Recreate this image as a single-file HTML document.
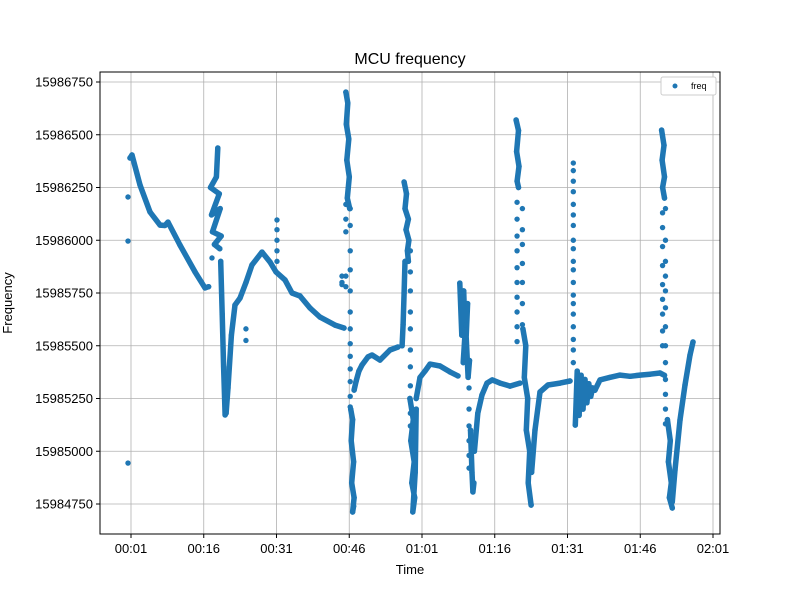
<!DOCTYPE html>
<html><head><meta charset="utf-8"><style>
body{margin:0;background:#fff}
svg{display:block;font-family:"Liberation Sans","DejaVu Sans",sans-serif}
</style></head><body>
<svg id="chart" width="800" height="600" viewBox="0 0 800 600">
<rect x="0" y="0" width="800" height="600" fill="#fff"/>
<g id="grid"></g>
<g id="marks"></g>
<rect x="100" y="72" width="620" height="462" fill="none" stroke="#000" stroke-width="1"/>
<g id="ticks"></g>
<text x="410" y="64" font-size="16" text-anchor="middle">MCU frequency</text>
<text x="410" y="574" font-size="13" text-anchor="middle">Time</text>
<text x="12" y="303" font-size="13" text-anchor="middle" transform="rotate(-90 12 303)">Frequency</text>
<g>
<rect x="661" y="77" width="55" height="18" rx="2" fill="#fff" stroke="#ccc"/>
<circle cx="675" cy="86" r="2.5" fill="#1f77b4"/>
<text x="691" y="89" font-size="9">freq</text>
</g>
</svg>
<script>
const xTicks=[1,16,31,46,61,76,91,106,121];
const yTicks=[15984750,15985000,15985250,15985500,15985750,15986000,15986250,15986500,15986750];
// continuous dense segments: [times(min)], [freq]
const segTimes=[
[0.79,1.2,2.86,4.92,6.98,8.0,8.63,11.10,14.20,16.26,17.0],
[18.9,18.6,17.4,19.2,17.6,19.4,17.8,19.6,18.2,19.3],
[19.5,19.8,20.1,20.3,20.4],
[20.6,21.0,21.7,22.44,23.47,24.71,25.95,28.01,29.66,30.90,32.75,34.20,35.85,37.91,39.97,43.06,44.92],
[45.3,45.7,45.4,45.9,45.5,46.0,45.6,46.1],
[46.3,46.7,46.4,46.9,46.5,47.0,46.7,46.9],
[47.0,47.4,48.0,48.63,49.87,50.69,52.34,54.40,56.05],
[57.3,57.8,57.5,58.2,57.7,58.3,58.0,58.2],
[57.5,57.3,57.1,56.9],
[58.5,59.2,58.7,59.4,58.9,59.5,59.1,59.6,59.8],
[59.8,60.59,61.62,62.65,64.71,66.77,68.42],
[68.8,69.2,69.6,70.0,70.4,69.5,70.0,70.5,70.8],
[71.0,71.3,71.5,71.7],
[71.8,72.5,73.37,74.40,75.5,77.08,79.14,81.21],
[80.4,80.9,80.5,81.0,80.6,80.9],
[81.8,82.4,82.1,82.8,82.5,83.2,82.9,83.5],
[83.6,84.30,85.33,86.98,89.45,91.52],
[92.6,93.0,93.4,93.8,94.2,94.6,95.0,95.4,95.8,96.2,96.67],
[96.67,97.70,99.7,101.82,103.9,105.95,108.0,110.07,111.0],
[110.4,110.9,110.5,111.0,110.6,111.0],
[111.6,112.2,111.8,112.4,112.0,112.6],
[112.6,113.16,114.20,115.23,116.26,116.88]
];
const segFreqs=[
[15986390,15986404,15986262,15986134,15986072,15986070,15986086,15985977,15985850,15985774,15985780],
[15986437,15986300,15986250,15986220,15986120,15986150,15986040,15986020,15985980,15985960],
[15985900,15985650,15985400,15985250,15985172],
[15985180,15985300,15985550,15985693,15985726,15985800,15985883,15985944,15985897,15985850,15985812,15985750,15985736,15985679,15985636,15985598,15985584],
[15986702,15986650,15986550,15986480,15986380,15986300,15986200,15986150],
[15985200,15985150,15985050,15984950,15984850,15984780,15984712,15984740],
[15985290,15985330,15985380,15985409,15985447,15985456,15985432,15985480,15985494],
[15986276,15986220,15986150,15986100,15986050,15986000,15985950,15985900],
[15985900,15985750,15985600,15985500],
[15985250,15985150,15985050,15984950,15984850,15984780,15984712,15984900,15985200],
[15985250,15985350,15985380,15985413,15985404,15985376,15985357],
[15985797,15985550,15985760,15985480,15985700,15985420,15985600,15985350,15985430],
[15985100,15984900,15984807,15984850],
[15985000,15985180,15985267,15985323,15985338,15985323,15985309,15985323],
[15986570,15986520,15986420,15986350,15986280,15986250],
[15985580,15985500,15985350,15985250,15985100,15985000,15984850,15984745],
[15984900,15985101,15985281,15985314,15985323,15985333],
[15985124,15985380,15985170,15985360,15985200,15985340,15985230,15985320,15985260,15985300,15985290],
[15985290,15985338,15985350,15985361,15985355,15985361,15985365,15985371,15985360],
[15986522,15986450,15986380,15986300,15986250,15986200],
[15985150,15985050,15984950,15984850,15984780,15984731],
[15984760,15984911,15985148,15985314,15985456,15985518]
];
// sparse individual samples: each group shares one time
const dotTimes=[0.38,17.7,24.7,31.1,44.5,45.3,46.2,58.6,70.7,80.6,81.7,92.2,110.6,111.2];
const dotFreqs=[
[15986205,15985996,15984944],
[15985916],
[15985580,15985525],
[15986096,15986050,15986000,15985950,15985900],
[15985830,15985790,15985800],
[15986170,15986100,15986040,15985830,15985780],
[15986150,15986070,15985950,15985860,15985760,15985660,15985580,15985510,15985450,15985390,15985330,15985260,15985210],
[15985950,15985850,15985760,15985660,15985580,15985480,15985400,15985310,15985240,15985180,15985120],
[15985300,15985200,15985120,15985050,15984980,15984920],
[15986180,15986100,15986020,15985950,15985870,15985800,15985730,15985660,15985590,15985520],
[15986150,15986050,15985980,15985890,15985800,15985700,15985600],
[15986366,15986330,15986280,15986230,15986170,15986120,15986070,15986000,15985960,15985900,15985860,15985800,15985740,15985700,15985650,15985590,15985530,15985480,15985420],
[15986130,15986060,15985970,15985880,15985790,15985720,15985650,15985570,15985500],
[15986150,15986000,15985900,15985830,15985760,15985680,15985590,15985500,15985420,15985340,15985270,15985200,15985130]
];
const NS="http://www.w3.org/2000/svg";
const X=t=>131+(t-1)*72.75/15;
const Y=f=>504-(f-15984750)*52.75/250;
const C="#1f77b4";
function mk(tag,attrs,parent){const e=document.createElementNS(NS,tag);for(const k in attrs)e.setAttribute(k,attrs[k]);parent.appendChild(e);return e;}
const grid=document.getElementById('grid'),ticks=document.getElementById('ticks'),marks=document.getElementById('marks');
const fmt=m=>String(Math.floor(m/60)).padStart(2,'0')+':'+String(m%60).padStart(2,'0');
xTicks.forEach(m=>{const x=X(m);
 const g=mk('line',{x1:x,x2:x,y1:72,y2:534,stroke:'#b0b0b0','stroke-width':0.8},grid);
 
 
 const tk=mk('line',{x1:x,x2:x,y1:534,y2:538,stroke:'#000'},ticks);
 
 
 const tl=mk('text',{x:x,y:553,'font-size':13,'text-anchor':'middle'},ticks);tl.textContent=fmt(m);
 
 
});
yTicks.forEach(v=>{const y=Y(v);
 const g=mk('line',{x1:100,x2:720,y1:y,y2:y,stroke:'#b0b0b0','stroke-width':0.8},grid);
 
 
 const tk=mk('line',{x1:96,x2:100,y1:y,y2:y,stroke:'#000'},ticks);
 
 
 const tl=mk('text',{x:93,y:y+4.5,'font-size':13,'text-anchor':'end'},ticks);tl.textContent=v;
 
 
});
segTimes.forEach((ts,i)=>{const fs=segFreqs[i];
 const pts=ts.map((t,j)=>X(t).toFixed(1)+','+Y(fs[j]).toFixed(1)).join(' ');
 const p=mk('polyline',{points:pts,fill:'none',stroke:C,'stroke-width':5.5,'stroke-linecap':'round','stroke-linejoin':'round'},marks);
 
 
 ts.forEach((t,j)=>{const c=mk('circle',{cx:X(t),cy:Y(fs[j]),r:2.7,fill:C},marks);
  
  });
});
dotTimes.forEach((t,i)=>{dotFreqs[i].forEach(f=>{
 const c=mk('circle',{cx:X(t),cy:Y(f),r:2.7,fill:C},marks);
 
 });});
</script>
</body></html>
